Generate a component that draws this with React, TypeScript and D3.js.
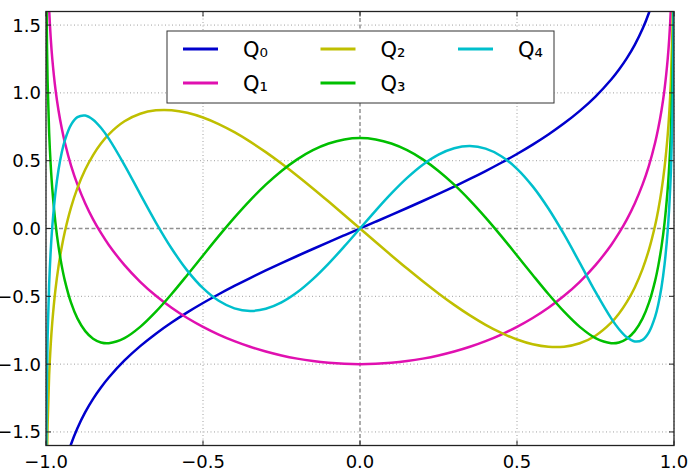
import React from 'react';
import * as d3 from 'd3';

// sample points of the five curves
const xs = [
  -0.9995, -0.999, -0.998, -0.995, -0.99, -0.985, -0.98, -0.97, -0.96, -0.95, -0.94, -0.92, -0.9, -0.875, -0.85, -0.825,
  -0.8, -0.75, -0.7, -0.65, -0.6, -0.55, -0.5, -0.45, -0.4, -0.35, -0.3, -0.25, -0.2, -0.15, -0.1, -0.05,
  0,
  0.05, 0.1, 0.15, 0.2, 0.25, 0.3, 0.35, 0.4, 0.45, 0.5, 0.55, 0.6, 0.65, 0.7, 0.75, 0.8,
  0.825, 0.85, 0.875, 0.9, 0.92, 0.94, 0.95, 0.96, 0.97, 0.98, 0.985, 0.99, 0.995, 0.998, 0.999, 0.9995,
];

const q0 = [
  -4.1469, -3.8002, -3.4534, -2.9945, -2.6467, -2.4427, -2.2976, -2.0923, -1.9459, -1.8318, -1.738, -1.589, -1.4722, -1.354, -1.2562, -1.1723,
  -1.0986, -0.973, -0.8673, -0.7753, -0.6931, -0.6184, -0.5493, -0.4847, -0.4236, -0.3654, -0.3095, -0.2554, -0.2027, -0.1511, -0.1003, -0.05,
  0,
  0.05, 0.1003, 0.1511, 0.2027, 0.2554, 0.3095, 0.3654, 0.4236, 0.4847, 0.5493, 0.6184, 0.6931, 0.7753, 0.8673, 0.973, 1.0986,
  1.1723, 1.2562, 1.354, 1.4722, 1.589, 1.738, 1.8318, 1.9459, 2.0923, 2.2976, 2.4427, 2.6467, 2.9945, 3.4534, 3.8002, 4.1469,
];

const q1 = [
  3.1448, 2.7964, 2.4465, 1.9795, 1.6202, 1.406, 1.2516, 1.0295, 0.8681, 0.7402, 0.6338, 0.4619, 0.325, 0.1848, 0.0677, -0.0329,
  -0.1211, -0.2703, -0.3929, -0.4961, -0.5841, -0.6599, -0.7254, -0.7819, -0.8305, -0.8721, -0.9071, -0.9362, -0.9595, -0.9773, -0.99, -0.9975,
  -1,
  -0.9975, -0.99, -0.9773, -0.9595, -0.9362, -0.9071, -0.8721, -0.8305, -0.7819, -0.7254, -0.6599, -0.5841, -0.4961, -0.3929, -0.2703, -0.1211,
  -0.0329, 0.0677, 0.1848, 0.325, 0.4619, 0.6338, 0.7402, 0.8681, 1.0295, 1.2516, 1.406, 1.6202, 1.9795, 2.4465, 2.7964, 3.1448,
];

const q2 = [
  -2.6414, -2.2903, -1.9357, -1.4572, -1.0827, -0.8561, -0.6911, -0.4518, -0.2771, -0.1389, -0.0246, 0.1571, 0.2974, 0.4345, 0.5417, 0.6268,
  0.6946, 0.7906, 0.8462, 0.8713, 0.8723, 0.8536, 0.8187, 0.7701, 0.7102, 0.6406, 0.563, 0.4788, 0.3892, 0.2955, 0.1987, 0.0998,
  0,
  -0.0998, -0.1987, -0.2955, -0.3892, -0.4788, -0.563, -0.6406, -0.7102, -0.7701, -0.8187, -0.8536, -0.8723, -0.8713, -0.8462, -0.7906, -0.6946,
  -0.6268, -0.5417, -0.4345, -0.2974, -0.1571, 0.0246, 0.1389, 0.2771, 0.4518, 0.6911, 0.8561, 1.0827, 1.4572, 1.9357, 2.2903, 2.6414,
];

const q3 = [
  2.3036, 1.9491, 1.5887, 1.0968, 0.7063, 0.468, 0.2944, 0.0441, -0.1354, -0.2736, -0.384, -0.5488, -0.6627, -0.7568, -0.8126, -0.84,
  -0.8454, -0.808, -0.7253, -0.6132, -0.4829, -0.3425, -0.1987, -0.0563, 0.0803, 0.2077, 0.3233, 0.4246, 0.5099, 0.5777, 0.6269, 0.6567,
  0.6667,
  0.6567, 0.6269, 0.5777, 0.5099, 0.4246, 0.3233, 0.2077, 0.0803, -0.0563, -0.1987, -0.3425, -0.4829, -0.6132, -0.7253, -0.808, -0.8454,
  -0.84, -0.8126, -0.7568, -0.6627, -0.5488, -0.384, -0.2736, -0.1354, 0.0441, 0.2944, 0.468, 0.7063, 1.0968, 1.5887, 1.9491, 2.3036,
];

const q4 = [
  -2.0275, -1.6898, -1.3229, -0.8169, -0.4116, -0.1647, 0.0135, 0.263, 0.4353, 0.559, 0.6501, 0.7658, 0.8208, 0.833, 0.8024, 0.7426,
  0.6626, 0.4676, 0.2538, 0.0441, -0.1472, -0.3105, -0.4402, -0.5332, -0.5888, -0.6077, -0.592, -0.5448, -0.4704, -0.3732, -0.2587, -0.1323,
  0,
  0.1323, 0.2587, 0.3732, 0.4704, 0.5448, 0.592, 0.6077, 0.5888, 0.5332, 0.4402, 0.3105, 0.1472, -0.0441, -0.2538, -0.4676, -0.6626,
  -0.7426, -0.8024, -0.833, -0.8208, -0.7658, -0.6501, -0.559, -0.4353, -0.263, -0.0135, 0.1647, 0.4116, 0.8169, 1.3229, 1.6898, 2.0275,
];

const names = ['Q₀', 'Q₁', 'Q₂', 'Q₃', 'Q₄'];
const colors = ['#0000cc', '#e010b0', '#bfbf00', '#00bf00', '#00bfcc'];
const xTicks = [-1, -0.5, 0, 0.5, 1];
const yTicks = [-1.5, -1, -0.5, 0, 0.5, 1, 1.5];

const W = 693;
const H = 476;
const left = 46, right = 674, top = 11.5, bottom = 445.5;
const font = 'DejaVu Sans, sans-serif';

export default function App() {
  const x = d3.scaleLinear().domain([-1, 1]).range([left, right]);
  const y = d3.scaleLinear().domain([-1.6, 1.6]).range([bottom, top]);
  const fmt = d3.format('.1f');
  const series = [q0, q1, q2, q3, q4];

  const line = d3
    .line<number>()
    .x((_, i) => x(xs[i]))
    .y(d => y(d))
    .curve(d3.curveCatmullRom.alpha(0.5));

  // legend: two rows, column-major
  const lgX = 167, lgY = 31, lgW = 387, lgH = 72;
  const colStep = 137.5, rowStep = 34;

  return (
    <svg width={W} height={H} style={{position: 'absolute', left: 0, top: 0, background: '#fff'}}>
      <defs>
        <clipPath id="plot">
          <rect x={left} y={top} width={right - left} height={bottom - top} />
        </clipPath>
      </defs>

      {/* dotted grid */}
      {xTicks.filter(t => t !== 0).map(t => (
        <line key={'gx' + t} x1={x(t)} x2={x(t)} y1={top} y2={bottom}
          stroke="#a0a0a0" strokeWidth={1} strokeDasharray="1,2.5" />
      ))}
      {yTicks.filter(t => t !== 0).map(t => (
        <line key={'gy' + t} x1={left} x2={right} y1={y(t)} y2={y(t)}
          stroke="#a0a0a0" strokeWidth={1} strokeDasharray="1,2.5" />
      ))}

      {/* zero lines */}
      <line x1={x(0)} x2={x(0)} y1={top} y2={bottom} stroke="#909090" strokeWidth={1.5} strokeDasharray="4,2.5" />
      <line x1={left} x2={right} y1={y(0)} y2={y(0)} stroke="#909090" strokeWidth={1.5} strokeDasharray="4,2.5" />

      <g clipPath="url(#plot)">
        {series.map((s, i) => (
          <path key={names[i]} d={line(s) ?? ''} fill="none" stroke={colors[i]} strokeWidth={2.5} />
        ))}
      </g>

      {/* frame + inward ticks */}
      <rect x={left} y={top} width={right - left} height={bottom - top} fill="none" stroke="#222" strokeWidth={1.3} />
      {xTicks.map(t => (
        <g key={'tx' + t}>
          <line x1={x(t)} x2={x(t)} y1={bottom} y2={bottom - 5} stroke="#222" strokeWidth={1} />
          <line x1={x(t)} x2={x(t)} y1={top} y2={top + 5} stroke="#222" strokeWidth={1} />
          <text x={x(t)} y={468} textAnchor="middle" fontFamily={font} fontSize={18} fill="#000">{fmt(t)}</text>
        </g>
      ))}
      {yTicks.map(t => (
        <g key={'ty' + t}>
          <line x1={left} x2={left + 5} y1={y(t)} y2={y(t)} stroke="#222" strokeWidth={1} />
          <line x1={right} x2={right - 5} y1={y(t)} y2={y(t)} stroke="#222" strokeWidth={1} />
          <text x={41} y={y(t) + 6.5} textAnchor="end" fontFamily={font} fontSize={18} fill="#000">{fmt(t)}</text>
        </g>
      ))}

      {/* legend */}
      <rect x={lgX} y={lgY} width={lgW} height={lgH} fill="#fff" stroke="#333" strokeWidth={1} />
      {names.map((n, i) => {
        const col = Math.floor(i / 2);
        const row = i % 2;
        const lx = 183 + col * colStep;
        const ly = 49 + row * rowStep;
        return (
          <g key={'lg' + n}>
            <line x1={lx} x2={lx + 35} y1={ly} y2={ly} stroke={colors[i]} strokeWidth={3} />
            <text x={lx + 60} y={ly + 8} fontFamily={font} fontSize={21} fill="#000">{n}</text>
          </g>
        );
      })}
    </svg>
  );
}
